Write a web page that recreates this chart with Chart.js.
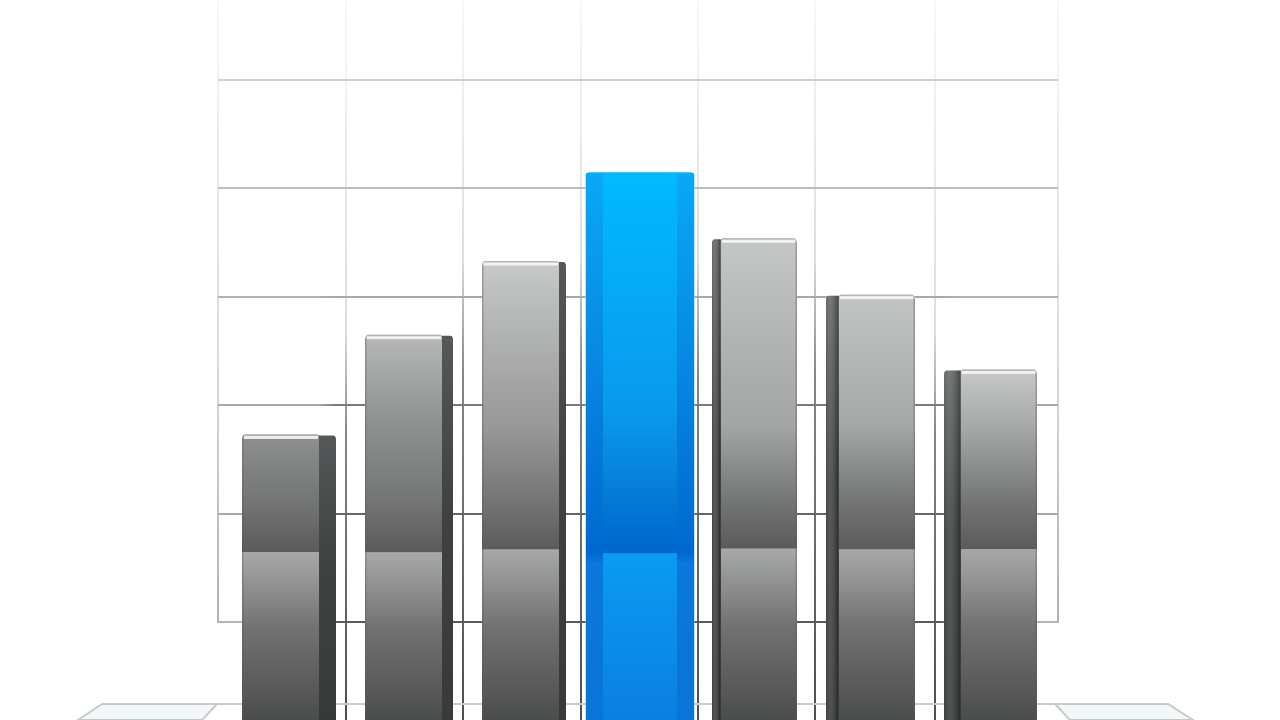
<!DOCTYPE html>
<html>
<head>
<meta charset="utf-8">
<style>
    html, body { margin: 0; padding: 0; background: #fff; }
    canvas { display: block; }
</style>
<script src="https://cdn.jsdelivr.net/npm/chart.js@4/dist/chart.umd.min.js"></script>
</head>
<body>
<canvas id="BarChart" width="1280" height="720"></canvas>
<script>
// chart data (one grid row = 1 unit)
const categories = ["1", "2", "3", "4", "5", "6", "7"];
const barValues = [1.73, 2.65, 3.33, 4.15, 3.54, 3.02, 2.33];
const yTicks = [0, 1, 2, 3, 4, 5];
const xGridTicks = [0, 1.067, 2.042, 3.025, 4, 4.975, 5.975, 7];
const floorLeftX = [-0.967, -0.008, -0.133, -1.167, -0.967];
const floorRightX = [6.975, 7.917, 8.125, 7.1, 6.975];
const floorY = [-0.756, -0.756, -0.904, -0.904, -0.756];
const floorBackX = [-0.008, 7];
const floorBackY = [-0.756, -0.756];

// looks of each bar, kept apart from the values
const yMin = -0.904;
const yMax = 5.738;
const highlight = 3; // the blue one
const barNudge = [3, 6, 3, 2, 0.5, -1.5, 0.5];
const faceWidth = [78, 78, 78, 108, 77, 77, 77];
const sideWidth = [16, 10, 6, 0, -8, -12, -16];
const topShade = ["#8e9190", "#b6b9b8", "#c6c9c8", "#00baff", "#c4c7c6", "#c2c5c4", "#c6c9c8"];
const midShade = [null, "#8e8f8f", "#979897", null, "#a3a4a4", "#a5a6a6", "#a7a8a8"];
const seamValues = [0.647, 0.647, 0.675, 0.64, 0.683, 0.675, 0.675]; // where the lighter lower band starts
const midValue = 1.8;
const lowValue = 1.1;

const yLineShade = [
    ["#b4b4b4", "#5a5a5a"],
    ["#a8a8a8", "#666666"],
    ["#a8a8a8", "#7a7a7a"],
    ["#b0b0b0", "#a8a8a8"],
    ["#c0c0c0", "#bcbcbc"],
    ["#d2d2d2", "#cfcfcf"],
];

function frontGradient(c) {
    const chart = c.chart;
    const i = c.dataIndex;
    if (i === undefined || !chart.chartArea) return "#888";
    const y = chart.scales.y;
    const top = y.getPixelForValue(barValues[i]);
    const bottom = y.getPixelForValue(yMin);
    const at = (v) => (y.getPixelForValue(v) - top) / (bottom - top);
    const seam = at(seamValues[i]);
    const g = chart.ctx.createLinearGradient(0, top, 0, bottom);
    if (i === highlight) {
        g.addColorStop(0, topShade[i]);
        g.addColorStop(at(1.9), "#0a98ea");
        g.addColorStop(seam, "#0066ca");
        g.addColorStop(seam + 0.002, "#0a9bf2");
        g.addColorStop(1, "#0a7fe3");
    } else {
        g.addColorStop(0, topShade[i]);
        if (midShade[i]) g.addColorStop(at(midValue), midShade[i]);
        g.addColorStop(at(lowValue), "#737474");
        g.addColorStop(seam, "#5a5b5a");
        g.addColorStop(seam + 0.002, "#a7a9a8");
        g.addColorStop(seam + (1 - seam) * 0.45, "#727272");
        g.addColorStop(1, "#4b4c4c");
    }
    return g;
}

function xGridColor(c) {
    const chart = c.chart;
    if (!chart.chartArea) return "#ddd";
    const g = chart.ctx.createLinearGradient(0, 0, 0, chart.chartArea.bottom);
    const last = xGridTicks.length - 1;
    if (c.index === 0 || c.index === last) {
        g.addColorStop(0, "#f8f8f8");
        g.addColorStop(0.5, "#dadada");
        g.addColorStop(0.865, "#b0b0b0");
        g.addColorStop(0.866, "rgba(255,255,255,0)");
        g.addColorStop(1, "rgba(255,255,255,0)");
    } else {
        const outer = c.index === 1 || c.index === last - 1;
        g.addColorStop(0, "#f8f8f8");
        g.addColorStop(outer ? 0.46 : 0.36, "#dcdcdc");
        g.addColorStop(outer ? 0.6 : 0.52, "#868686");
        g.addColorStop(1, "#4e4e4e");
    }
    return g;
}

function yGridColor(c) {
    const chart = c.chart;
    if (!chart.chartArea) return "#ccc";
    const shade = yLineShade[c.index] || yLineShade[0];
    const a = chart.chartArea;
    const g = chart.ctx.createLinearGradient(a.left, 0, a.right, 0);
    g.addColorStop(0, shade[0]);
    g.addColorStop(0.12, shade[0]);
    g.addColorStop(0.14, shade[1]);
    g.addColorStop(0.86, shade[1]);
    g.addColorStop(0.88, shade[0]);
    g.addColorStop(1, shade[0]);
    return g;
}

function drawBlueStrips(ctx, el, bottom, seamY) {
    const left = el.x - el.width / 2;
    const right = el.x + el.width / 2;
    const seam = (seamY - el.y) / (bottom - el.y);
    const g = ctx.createLinearGradient(0, el.y, 0, bottom);
    g.addColorStop(0, "#0aa8f6");
    g.addColorStop(seam, "#0068d0");
    g.addColorStop(seam + 0.02, "#0a78dc");
    g.addColorStop(1, "#0a74d8");
    ctx.fillStyle = g;
    ctx.fillRect(left, el.y + 1, 17, bottom - el.y);
    ctx.fillRect(right - 17, el.y + 1, 17, bottom - el.y);
    ctx.fillStyle = "rgba(130,215,255,0.55)";
    ctx.fillRect(left - 1, el.y + 2, 1, bottom - el.y);
    ctx.fillRect(right, el.y + 2, 1, bottom - el.y);
}

function drawSideFace(ctx, el, sw, bottom) {
    const left = el.x - el.width / 2;
    const right = el.x + el.width / 2;
    const inner = sw > 0 ? right : left;
    const outer = inner + sw;
    const dir = Math.sign(sw);
    // chamfered top: the far edge starts a little lower than the front edge
    ctx.beginPath();
    ctx.moveTo(inner - dir, el.y + 1);
    ctx.lineTo(outer - dir * 3, el.y + 1);
    ctx.quadraticCurveTo(outer, el.y + 1, outer, el.y + 5);
    ctx.lineTo(outer, bottom + 2);
    ctx.lineTo(inner - dir, bottom + 2);
    ctx.closePath();
    const v = ctx.createLinearGradient(0, el.y, 0, bottom);
    v.addColorStop(0, sw > 0 ? "#555858" : "#626565");
    v.addColorStop(0.45, "#404242");
    v.addColorStop(1, "#383939");
    ctx.fillStyle = v;
    ctx.fill();
    // the left hand faces catch light on the far edge and go dark by the front
    if (sw < 0) {
        ctx.save();
        ctx.clip();
        const h = ctx.createLinearGradient(inner, 0, outer, 0);
        h.addColorStop(0, "rgba(0,0,0,0.28)");
        h.addColorStop(0.7, "rgba(255,255,255,0.12)");
        h.addColorStop(1, "rgba(255,255,255,0.04)");
        ctx.fillStyle = h;
        ctx.fillRect(outer, el.y, -sw, bottom - el.y);
        ctx.restore();
    }
}

function fillFloor(chart, xs) {
    const { ctx, scales } = chart;
    ctx.save();
    ctx.fillStyle = "#f1f8f7";
    ctx.beginPath();
    xs.forEach((x, i) => {
        ctx.lineTo(scales.xGrid.getPixelForValue(x), scales.y.getPixelForValue(floorY[i]));
    });
    ctx.closePath();
    ctx.fill();
    ctx.restore();
}

// moves every bar to where it stands in the perspective and adds the 3D faces
const barFaces = {
    id: "barFaces",
    afterDatasetUpdate(chart, args) {
        const meta = args.meta;
        if (meta.type !== "bar") return;
        meta.data.forEach((el, i) => {
            el.x += barNudge[i];
            el.width = faceWidth[i];
        });
    },
    // the filler plugin clips to the chart area, the floor panes lie outside it
    beforeDatasetsDraw(chart) {
        fillFloor(chart, floorLeftX);
        fillFloor(chart, floorRightX);
    },
    afterDatasetDraw(chart, args) {
        const meta = args.meta;
        if (meta.type !== "bar") return;
        const ctx = chart.ctx;
        const bottom = chart.chartArea.bottom;
        const seamY = chart.scales.y.getPixelForValue(seamValues[highlight]);
        meta.data.forEach((el, i) => {
            const left = el.x - el.width / 2;
            const right = el.x + el.width / 2;
            ctx.save();
            if (i === highlight) {
                drawBlueStrips(ctx, el, bottom, seamY);
                ctx.restore();
                return;
            }
            const sw = sideWidth[i];
            drawSideFace(ctx, el, sw, bottom);
            // grey rim and bright lip along the top of the front face
            ctx.fillStyle = "rgba(176,178,178,0.9)";
            ctx.fillRect(left + 2, el.y, el.width - 4, 1.5);
            ctx.fillStyle = "rgba(246,246,246,0.9)";
            ctx.fillRect(left + 2, el.y + 1.5, el.width - 4, 3);
            // thin edge on the open side of the front face
            ctx.fillStyle = "rgba(90,92,92,0.4)";
            if (sw > 0) ctx.fillRect(left, el.y + 4, 1.5, bottom - el.y);
            else ctx.fillRect(right - 1.5, el.y + 4, 1.5, bottom - el.y);
            ctx.restore();
        });
    },
};

function toPoints(xs, ys) {
    return xs.map((x, i) => ({ x: x, y: ys[i] }));
}

new Chart(document.getElementById("BarChart"), {
    data: {
        labels: categories,
        datasets: [
            {
                type: "bar",
                label: "Values",
                data: barValues,
                base: yMin,
                xAxisID: "x",
                grouped: false,
                backgroundColor: frontGradient,
                borderRadius: { topLeft: 4, topRight: 4, bottomLeft: 0, bottomRight: 0 },
                borderSkipped: false,
                order: 1,
            },
            {
                type: "line",
                data: toPoints(floorLeftX, floorY),
                xAxisID: "xGrid",
                borderColor: "#c6caca",
                borderWidth: 2,
                pointRadius: 0,
                tension: 0,
                clip: false,
                order: 2,
            },
            {
                type: "line",
                data: toPoints(floorRightX, floorY),
                xAxisID: "xGrid",
                borderColor: "#c6caca",
                borderWidth: 2,
                pointRadius: 0,
                tension: 0,
                clip: false,
                order: 2,
            },
            {
                type: "line",
                data: toPoints(floorBackX, floorBackY),
                xAxisID: "xGrid",
                borderColor: "#c6caca",
                borderWidth: 2,
                pointRadius: 0,
                clip: false,
                order: 2,
            },
        ],
    },
    options: {
        responsive: false,
        animation: false,
        events: [],
        layout: { padding: { left: 218, right: 222, top: 0, bottom: 0 } },
        plugins: {
            legend: { display: false },
            tooltip: { enabled: false },
        },
        datasets: { bar: { categoryPercentage: 1, barPercentage: 0.65 } },
        scales: {
            x: { type: "category", display: false, offset: true },
            xGrid: {
                type: "linear",
                position: "bottom",
                min: 0,
                max: 7,
                afterBuildTicks: (axis) => { axis.ticks = xGridTicks.map((v) => ({ value: v })); },
                ticks: { display: false, autoSkip: false },
                border: { display: false },
                grid: { color: xGridColor, lineWidth: 2, drawTicks: false },
            },
            y: {
                type: "linear",
                min: yMin,
                max: yMax,
                afterBuildTicks: (axis) => { axis.ticks = yTicks.map((v) => ({ value: v })); },
                ticks: { display: false },
                border: { display: false },
                grid: { color: yGridColor, lineWidth: 2, drawTicks: false },
            },
        },
    },
    plugins: [barFaces],
});
</script>
</body>
</html>
